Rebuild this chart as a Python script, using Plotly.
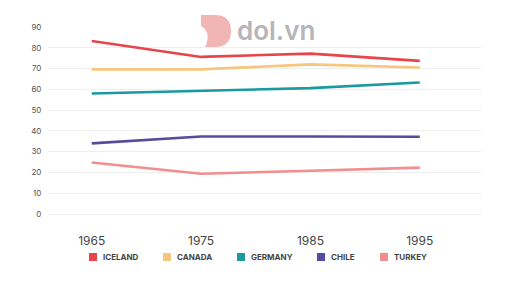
import plotly.graph_objects as go

years = [1965, 1975, 1985, 1995]
countries = ["ICELAND", "CANADA", "GERMANY", "CHILE", "TURKEY"]
iceland = [83.3, 75.6, 77.2, 73.7]
canada = [69.6, 69.6, 72.0, 70.5]
germany = [58.0, 59.3, 60.6, 63.3]
chile = [34.0, 37.3, 37.3, 37.2]
turkey = [24.8, 19.4, 20.8, 22.3]
series = [iceland, canada, germany, chile, turkey]
colors = ["#e5454b", "#f7c57c", "#1a9a9e", "#554c9e", "#f28e8e"]
y_ticks = [0, 10, 20, 30, 40, 50, 60, 70, 80, 90]

W, H = 512, 288
ML, MR, MT, MB = 48, 31, 27, 74

fig = go.Figure()
for name, vals, col in zip(countries, series, colors):
    fig.add_trace(go.Scatter(x=years, y=vals, mode="lines", name=name,
                             line=dict(color=col, width=2.6), showlegend=False,
                             hoverinfo="skip"))

pw = W - ML - MR
ph = H - MT - MB
def px(x):
    return (x - ML) / pw
def py(y):
    return (H - MB - y) / ph

# manual legend (square + label)
legend_x = [89, 163, 237, 317, 380]
legend_y = 257
for name, col, lx in zip(countries, colors, legend_x):
    fig.add_shape(type="rect", xref="paper", yref="paper",
                  x0=px(lx), x1=px(lx + 8), y0=py(legend_y - 4), y1=py(legend_y + 4),
                  fillcolor=col, line=dict(width=0))
    fig.add_annotation(text=name, xref="paper", yref="paper", x=px(lx + 12), y=py(legend_y),
                       xanchor="left", yanchor="middle", showarrow=False,
                       font=dict(family="Inter, sans-serif", size=8, color="#444", weight="bold"))

# watermark logo (decorative)
fig.add_shape(type="path", xref="paper", yref="paper",
              path=(f"M {px(201)},{py(15)} L {px(215)},{py(15)} "
                    f"Q {px(231)},{py(15)} {px(231)},{py(31)} "
                    f"Q {px(231)},{py(47)} {px(215)},{py(47)} "
                    f"L {px(205)},{py(47)} Q {px(212)},{py(33)} {px(201)},{py(26)} Z"),
              fillcolor="#f2b5b5", line=dict(width=0), layer="above")
fig.add_annotation(text="dol.vn", xref="paper", yref="paper", x=px(235), y=py(31),
                   xanchor="left", yanchor="middle", showarrow=False,
                   font=dict(family="Inter, sans-serif", size=26, color="#b5b5ba", weight=600))

fig.update_layout(
    width=W, height=H,
    margin=dict(l=ML, r=MR, t=MT, b=MB, autoexpand=False),
    paper_bgcolor="white", plot_bgcolor="white",
    font=dict(family="Inter, sans-serif", color="#444"),
    xaxis=dict(range=[1961, 2000.6], tickvals=years, showgrid=False, zeroline=False,
               showline=False, ticks="outside", ticklen=16, tickcolor="rgba(0,0,0,0)",
               tickfont=dict(size=12, color="#444"), automargin=False),
    yaxis=dict(range=[0, 90], tickvals=y_ticks, showgrid=True, gridcolor="#eeeeee",
               gridwidth=1, zeroline=True, zerolinecolor="#eeeeee", zerolinewidth=1,
               showline=False, ticks="outside", ticklen=4, tickcolor="rgba(0,0,0,0)",
               tickfont=dict(size=8, color="#555"), automargin=False),
    showlegend=False,
)

fig.write_html("out.html")
